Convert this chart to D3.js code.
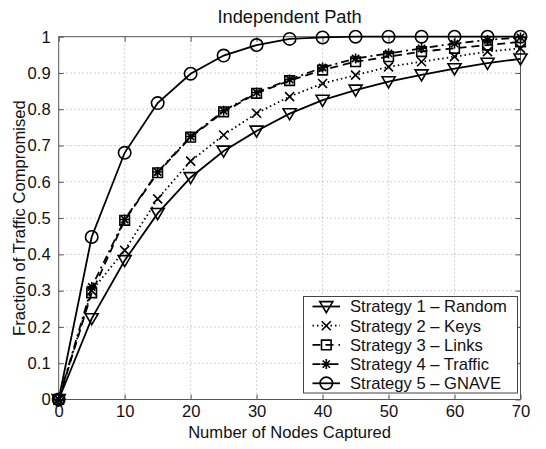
<!DOCTYPE html>
<html>
<head>
<meta charset="utf-8">
<script src="https://cdn.jsdelivr.net/npm/d3@7"></script>
<style>
  html, body { margin: 0; padding: 0; background: #fff; }
  svg { display: block; font-family: "Liberation Sans", Arial, Helvetica, sans-serif; }
</style>
</head>
<body>
<svg id="chart" width="546" height="449"></svg>
<script>
// ---- data ----
const nodesCaptured = [0, 5, 10, 15, 20, 25, 30, 35, 40, 45, 50, 55, 60, 65, 70];
const strategy1Random  = [0, 0.223, 0.383, 0.513, 0.612, 0.685, 0.740, 0.788, 0.825, 0.853, 0.876, 0.895, 0.912, 0.927, 0.939];
const strategy2Keys    = [0, 0.300, 0.411, 0.553, 0.657, 0.729, 0.789, 0.835, 0.871, 0.894, 0.917, 0.931, 0.945, 0.959, 0.968];
const strategy3Links   = [0, 0.294, 0.494, 0.625, 0.723, 0.793, 0.844, 0.879, 0.908, 0.931, 0.945, 0.959, 0.968, 0.977, 0.986];
const strategy4Traffic = [0, 0.310, 0.496, 0.627, 0.725, 0.796, 0.846, 0.882, 0.915, 0.940, 0.954, 0.968, 0.981, 0.991, 0.998];
const strategy5Gnave   = [0, 0.448, 0.680, 0.817, 0.898, 0.948, 0.977, 0.994, 0.998, 1.000, 1.000, 1.000, 1.000, 1.000, 1.000];
const seriesNames = ["Strategy 1 \u2013 Random", "Strategy 2 \u2013 Keys", "Strategy 3 \u2013 Links", "Strategy 4 \u2013 Traffic", "Strategy 5 \u2013 GNAVE"];
const xTicks = [0, 10, 20, 30, 40, 50, 60, 70];
const yTicks = [0, 0.1, 0.2, 0.3, 0.4, 0.5, 0.6, 0.7, 0.8, 0.9, 1];
const titleText = "Independent Path";
const xLabelText = "Number of Nodes Captured";
const yLabelText = "Fraction of Traffic Compromised";

// ---- layout ----
const svg = d3.select("#chart");
const L = 58.7, R = 520.5, T = 36.7, B = 399.5;
const x = d3.scaleLinear().domain([0, 70]).range([L, R]);
const y = d3.scaleLinear().domain([0, 1]).range([B, T]);
const axisColor = "#555";
const fs = 16.6;

// grid
const grid = svg.append("g");
grid.selectAll(".gx").data(xTicks.slice(1, -1)).enter().append("line")
  .attr("x1", d => x(d)).attr("x2", d => x(d)).attr("y1", T).attr("y2", B)
  .attr("stroke", "#aaa").attr("stroke-width", 1).attr("stroke-dasharray", "1,3");
grid.selectAll(".gy").data(yTicks.slice(1, -1)).enter().append("line")
  .attr("y1", d => y(d)).attr("y2", d => y(d)).attr("x1", L).attr("x2", R)
  .attr("stroke", "#aaa").attr("stroke-width", 1).attr("stroke-dasharray", "1,3");

// axes
const xAxisB = d3.axisBottom(x).tickValues(xTicks).tickSize(-5).tickPadding(5.5).tickFormat(d3.format("d"));
const xAxisT = d3.axisTop(x).tickValues(xTicks).tickSize(-5).tickFormat("");
const yAxisL = d3.axisLeft(y).tickValues(yTicks).tickSize(-5).tickPadding(8).tickFormat(d => d === 0 ? "0" : d === 1 ? "1" : d3.format(".1f")(d));
const yAxisR = d3.axisRight(y).tickValues(yTicks).tickSize(-5).tickFormat("");

function styleAxis(g) {
  g.selectAll("path").attr("stroke", axisColor).attr("stroke-width", 1);
  g.selectAll("line").attr("stroke", axisColor).attr("stroke-width", 1);
  g.selectAll("text").attr("fill", "#111").style("font-size", fs + "px").style("font-family", "'Liberation Sans', Arial, sans-serif");
}
svg.append("g").attr("transform", `translate(0,${B})`).call(xAxisB).call(g => g.select(".domain").attr("d", `M${L},0H${R}`)).call(styleAxis);
svg.append("g").attr("transform", `translate(0,${T})`).call(xAxisT).call(g => g.select(".domain").attr("d", `M${L},0H${R}`)).call(styleAxis);
svg.append("g").attr("transform", `translate(${L},0)`).call(yAxisL).call(g => g.select(".domain").attr("d", `M0,${B}V${T}`)).call(styleAxis);
svg.append("g").attr("transform", `translate(${R},0)`).call(yAxisR).call(g => g.select(".domain").attr("d", `M0,${B}V${T}`)).call(styleAxis);

// markers
function markerPath(type, cx, cy) {
  switch (type) {
    case "tri": { const s = 6.5; return `M${cx - s},${cy - s * 0.75}L${cx + s},${cy - s * 0.75}L${cx},${cy + s * 0.95}Z`; }
    case "x": { const s = 4.5; return `M${cx - s},${cy - s}L${cx + s},${cy + s}M${cx - s},${cy + s}L${cx + s},${cy - s}`; }
    case "sq": { const s = 4.8; return `M${cx - s},${cy - s}H${cx + s}V${cy + s}H${cx - s}Z`; }
    case "star": { const s = 5, d = 3.6; return `M${cx - s},${cy}H${cx + s}M${cx},${cy - s}V${cy + s}M${cx - d},${cy - d}L${cx + d},${cy + d}M${cx - d},${cy + d}L${cx + d},${cy - d}`; }
    case "circ": { const r = 6.2; return `M${cx - r},${cy}A${r},${r} 0 1,0 ${cx + r},${cy}A${r},${r} 0 1,0 ${cx - r},${cy}Z`; }
  }
}

const series = [
  { name: seriesNames[0], values: strategy1Random,  dash: null,      marker: "tri" },
  { name: seriesNames[1], values: strategy2Keys,    dash: "1.5,3",   marker: "x" },
  { name: seriesNames[2], values: strategy3Links,   dash: "8,5",     marker: "sq" },
  { name: seriesNames[3], values: strategy4Traffic, dash: "8,4,2,4", marker: "star" },
  { name: seriesNames[4], values: strategy5Gnave,   dash: null,      marker: "circ" }
];

const line = d3.line().x(d => x(d[0])).y(d => y(d[1]));
const plot = svg.append("g");
series.forEach(s => {
  const pts = nodesCaptured.map((n, i) => [n, s.values[i]]);
  plot.append("path").attr("d", line(pts)).attr("fill", "none").attr("stroke", "#000")
    .attr("stroke-width", 1.8).attr("stroke-dasharray", s.dash);
  plot.selectAll(null).data(pts).enter().append("path")
    .attr("d", d => markerPath(s.marker, x(d[0]), y(d[1])))
    .attr("fill", "none").attr("stroke", "#000").attr("stroke-width", 1.6);
});

// title & labels
svg.append("text").attr("x", (L + R) / 2).attr("y", 23).attr("text-anchor", "middle")
  .style("font-size", "18.3px").attr("fill", "#111").text(titleText);
svg.append("text").attr("x", (L + R) / 2).attr("y", 437.5).attr("text-anchor", "middle")
  .style("font-size", fs + "px").attr("fill", "#111").text(xLabelText);
svg.append("text").attr("transform", `translate(25,${(T + B) / 2}) rotate(-90)`).attr("text-anchor", "middle")
  .style("font-size", fs + "px").attr("fill", "#111").text(yLabelText);

// legend
const lg = svg.append("g");
const lx0 = 303.5, ly0 = 296.5, lx1 = 517.5, ly1 = 393;
lg.append("rect").attr("x", lx0).attr("y", ly0).attr("width", lx1 - lx0).attr("height", ly1 - ly0)
  .attr("fill", "#fff").attr("stroke", "#444").attr("stroke-width", 1);
series.forEach((s, i) => {
  const cy = 306.5 + i * 19.2;
  lg.append("line").attr("x1", 312.5).attr("x2", 340).attr("y1", cy).attr("y2", cy)
    .attr("stroke", "#000").attr("stroke-width", 1.8).attr("stroke-dasharray", s.dash);
  lg.append("path").attr("d", markerPath(s.marker, 326.3, cy)).attr("fill", "none").attr("stroke", "#000").attr("stroke-width", 1.6);
  lg.append("text").attr("x", 350).attr("y", cy + 5.8).style("font-size", fs + "px").attr("fill", "#111").text(s.name);
});
</script>
</body>
</html>
